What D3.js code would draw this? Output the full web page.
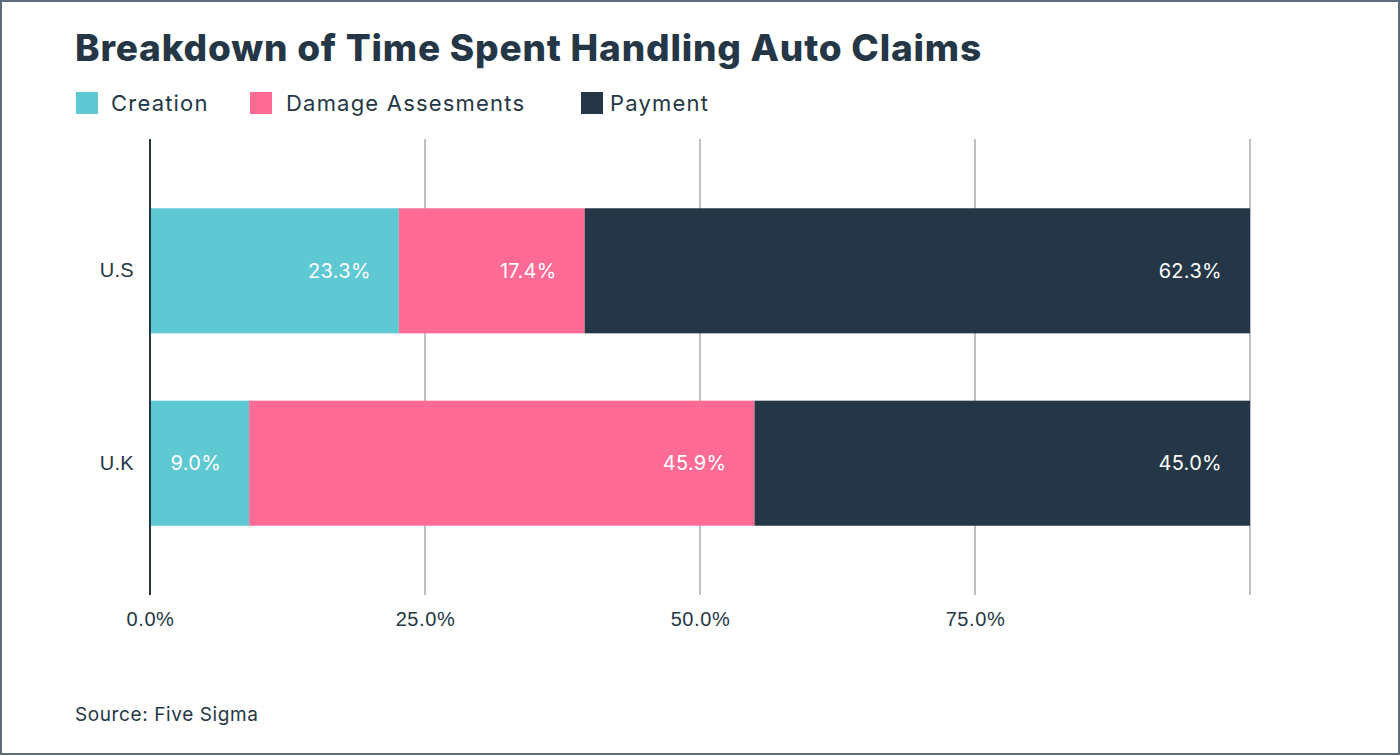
<!DOCTYPE html>
<html>
<head>
<meta charset="utf-8">
<script src="https://cdn.jsdelivr.net/npm/d3@7"></script>
<style>
  html, body { margin: 0; padding: 0; background: #fff; }
  svg { display: block; font-family: "Inter", "Open Sans", sans-serif; }
</style>
</head>
<body>
<svg id="chart" width="1400" height="755"></svg>
<script>
const title = "Breakdown of Time Spent Handling Auto Claims";
const source = "Source: Five Sigma";
const categories = ["U.S", "U.K"];
const seriesNames = ["Creation", "Damage Assesments", "Payment"];
const seriesColors = ["#5ec8d3", "#ff6b95", "#253746"];
const creation = [23.3, 9.0];
const damage = [17.4, 45.9];
const payment = [62.3, 45.0];
const tickValues = [0, 0.25, 0.5, 0.75, 1];
const tickLabels = ["0.0%", "25.0%", "50.0%", "75.0%", ""];

const svg = d3.select("#chart");
const W = 1400, H = 755;
const dark = "#253746";

svg.append("rect").attr("x", 1).attr("y", 1).attr("width", W - 2).attr("height", H - 2)
  .attr("fill", "#fff").attr("stroke", "#5d6d7b").attr("stroke-width", 2);

svg.append("text").attr("x", 75).attr("y", 61).text(title)
  .attr("font-size", 37).attr("font-weight", 800).attr("fill", dark)
  .attr("letter-spacing", 0.8);

// legend
const legendX = [76, 250, 581];
const legendTextX = [111, 286, 610];
const lg = svg.append("g");
seriesNames.forEach((name, i) => {
  lg.append("rect").attr("x", legendX[i]).attr("y", 92).attr("width", 22).attr("height", 22)
    .attr("fill", seriesColors[i]);
  lg.append("text").attr("x", legendTextX[i]).attr("y", 111).text(name)
    .attr("font-size", 22).attr("fill", dark).attr("letter-spacing", 1.2);
});

const rows = categories.map((c, i) => ({cat: c, Creation: creation[i], "Damage Assesments": damage[i], Payment: payment[i]}));
const stack = d3.stack().keys(seriesNames).offset(d3.stackOffsetExpand);
const layers = stack(rows);

const x = d3.scaleLinear().domain([0, 1]).range([150, 1250]);
const y = d3.scaleBand().domain(categories).range([139, 595]).paddingInner(0.35).paddingOuter(0.36);

// gridlines
svg.append("g").selectAll("line").data(tickValues.slice(1)).join("line")
  .attr("x1", d => x(d)).attr("x2", d => x(d)).attr("y1", 139).attr("y2", 595)
  .attr("stroke", "#a9adb1").attr("stroke-width", 1.5);

// x tick labels
const xAxis = d3.axisBottom(x).tickValues(tickValues).tickSize(0).tickPadding(0)
  .tickFormat((d, i) => tickLabels[i]);
const xg = svg.append("g").attr("transform", "translate(0,626)").call(xAxis);
xg.select(".domain").remove();
xg.selectAll("text").attr("font-size", 20).attr("fill", dark).attr("font-family", null)
  .attr("dy", 0).attr("letter-spacing", 0.6);

// y labels
const yAxis = d3.axisLeft(y).tickSize(0).tickPadding(0);
const yg = svg.append("g").attr("transform", "translate(134,0)").call(yAxis);
yg.select(".domain").remove();
yg.selectAll("text").attr("font-size", 20).attr("fill", dark).attr("font-family", null)
  .attr("letter-spacing", 0.3);

// bars
const bars = svg.append("g");
layers.forEach((layer, li) => {
  bars.append("g").attr("fill", seriesColors[li]).selectAll("rect").data(layer).join("rect")
    .attr("x", d => x(d[0])).attr("width", d => x(d[1]) - x(d[0]))
    .attr("y", d => y(d.data.cat)).attr("height", y.bandwidth());
  bars.append("g").selectAll("text").data(layer).join("text")
    .attr("x", d => x(d[1]) - 28).attr("y", d => y(d.data.cat) + y.bandwidth() / 2)
    .attr("dy", "0.35em").attr("text-anchor", "end")
    .attr("font-size", 20).attr("fill", "#fff").attr("letter-spacing", 0.3)
    .text(d => d.data[layer.key].toFixed(1) + "%");
});

// y axis line
svg.append("line").attr("x1", 150).attr("x2", 150).attr("y1", 139).attr("y2", 595)
  .attr("stroke", dark).attr("stroke-width", 2);

svg.append("text").attr("x", 75).attr("y", 721).text(source)
  .attr("font-size", 19).attr("fill", dark).attr("letter-spacing", 0.6);
</script>
</body>
</html>
